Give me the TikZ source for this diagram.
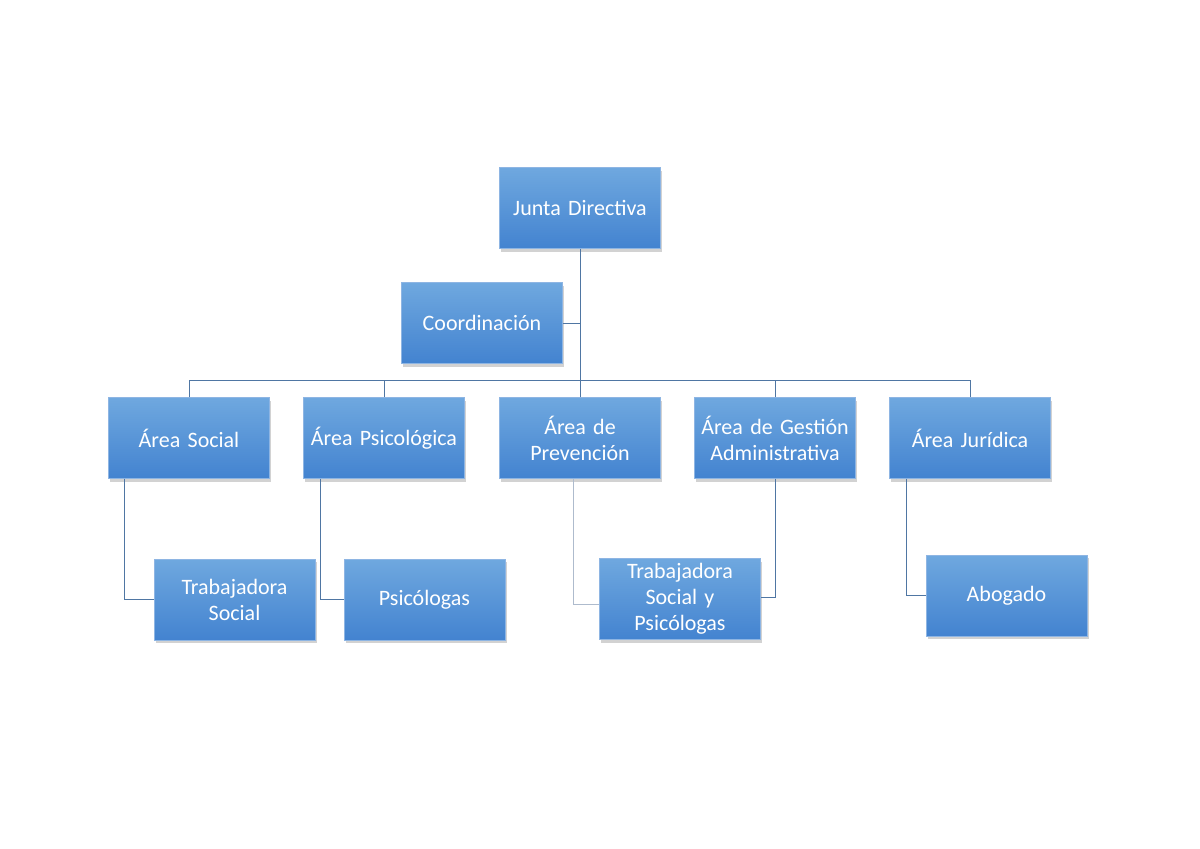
\documentclass[tikz,border=0pt]{standalone}
\usepackage{fontspec}
\setmainfont{Carlito}[WordSpace=0.7]
\usetikzlibrary{shadows}

\definecolor{boxtop}{HTML}{6FA8DF}
\definecolor{boxbot}{HTML}{4383D0}
\definecolor{linecol}{HTML}{4F76A3}
\definecolor{linelight}{HTML}{AEBBCD}

\tikzset{
    box/.style={rectangle, minimum width=161pt, minimum height=81pt,
        text width=158pt, align=center, inner sep=0pt,
        top color=boxtop, bottom color=boxbot, draw=boxbot!60, line width=0.3pt,
        text=white, font=\fontsize{22}{26}\selectfont,
        drop shadow={shadow xshift=1.5pt, shadow yshift=-3pt, opacity=0.35}},
    conn/.style={draw=linecol, line width=1pt},
    connlight/.style={draw=linelight, line width=1pt}
}

\begin{document}
\begin{tikzpicture}[x=1pt, y=-1pt]

    % Page size of the chart
    \useasboundingbox[fill=white] (0,0) rectangle (1200,849);
    \def\busy{380}

    % Top levels
    \node[box] (junta) at (580,208) {Junta Directiva};
    \node[box] (coord) at (482,323) {Coordinación};

    % Areas
    \node[box] (social)   at (189,438) {Área Social};
    \node[box] (psico)    at (384,438) {Área Psicológica};
    \node[box] (prev)     at (580,438) {Área de\\Prevención};
    \node[box] (gestion)  at (775,438) {Área de Gestión\\Administrativa};
    \node[box] (juridica) at (970,438) {Área Jurídica};

    % Staff
    \node[box] (trabsoc)  at (234.5,599.5) {Trabajadora\\Social};
    \node[box] (psicas)   at (424.5,599.5) {Psicólogas};
    \node[box] (trabpsi)  at (680,599)     {Trabajadora\\Social y\\Psicólogas};
    \node[box] (abogado)  at (1006.5,595.5) {Abogado};

    % Bus under the board
    \coordinate (bus) at (580,\busy);
    \draw[conn] (junta.south) -- (bus);
    \draw[conn] (coord.east) -- (coord.east -| junta.south);
    \draw[conn] (social.north) -- (social.north |- bus) -- (juridica.north |- bus) -- (juridica.north);
    \foreach \n in {psico, prev, gestion}
        \draw[conn] (\n.north) -- (\n.north |- bus);

    % Areas down to their staff
    \draw[conn] ([xshift=16pt]social.south west) |- (trabsoc.west);
    \draw[conn] ([xshift=17pt]psico.south west) |- (psicas.west);
    \draw[connlight] ([xshift=74pt]prev.south west) |- ([yshift=-5pt]trabpsi.west);
    \draw[conn] (gestion.south) |- ([yshift=2pt]trabpsi.east);
    \draw[conn] ([xshift=17pt]juridica.south west) |- (abogado.west);

\end{tikzpicture}
\end{document}
